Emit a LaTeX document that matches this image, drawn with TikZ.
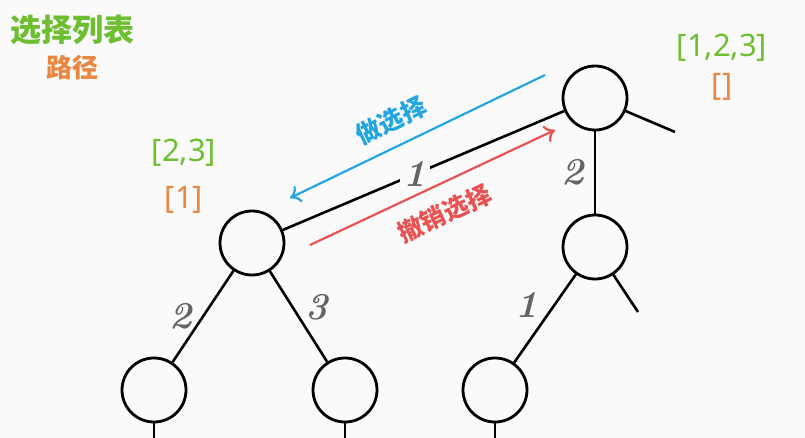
\documentclass[tikz,border=0pt]{standalone}
\usepackage{fontspec}
\newfontfamily\cjk{Noto Sans CJK SC}
\newfontfamily\lbl{Noto Sans}
\usetikzlibrary{arrows.meta}
\definecolor{bg}{RGB}{250,250,250}
\definecolor{listgreen}{RGB}{110,190,50}
\definecolor{pathorange}{RGB}{232,135,65}
\definecolor{doblue}{RGB}{35,165,225}
\definecolor{undored}{RGB}{232,82,82}
\definecolor{edgegray}{RGB}{100,100,100}
\tikzset{
  tnode/.style={circle,draw,line width=2.8pt,minimum size=64pt,inner sep=0pt},
  tedge/.style={line width=2.6pt},
  elabel/.style={text=edgegray,font=\fontsize{38}{38}\selectfont\bfseries\itshape},
  choice/.style={text=listgreen,font=\lbl\fontsize{31}{31}\selectfont},
  track/.style={text=pathorange,font=\lbl\fontsize{31}{31}\selectfont},
  move/.style={line width=2.2pt,-{To[length=10pt,width=18pt]}}
}
\begin{document}
\begin{tikzpicture}[x=1pt,y=-1pt]
    \fill[bg] (0,0) rectangle (805,438);
    \useasboundingbox (0,0) rectangle (805,438);
    % legend
    \node[text=listgreen,font=\cjk\bfseries\fontsize{31}{31}\selectfont] (legA) at (72,30) {选择列表};
    \node[text=pathorange,font=\cjk\bfseries\fontsize{26}{26}\selectfont] (legB) at (72,68) {路径};
    % tree
    \node[tnode] (root) at (595,98) {};
    \node[tnode] (left) at (252,243) {};
    \node[tnode] (mid) at (595,247) {};
    \node[tnode] (ll) at (154,390) {};
    \node[tnode] (lr) at (345,390) {};
    \node[tnode] (ml) at (495,390) {};
    \coordinate (rootR) at (675,132);
    \coordinate (midR) at (638,312);
    \coordinate (llB) at (154,440);
    \coordinate (lrB) at (345,440);
    \coordinate (mlB) at (495,440);
    \draw[tedge] (root) -- (left)
      node[pos=0.53,fill=bg,elabel,inner sep=4pt] {1};
    \draw[tedge] (root) -- (rootR);
    \draw[tedge] (root) -- (mid)
      node[midway,left=6pt,elabel] {2};
    \draw[tedge] (mid) -- (ml)
      node[pos=0.35,left=12pt,elabel] {1};
    \draw[tedge] (mid) -- (midR);
    \draw[tedge] (left) -- (ll)
      node[midway,left=6pt,elabel] {2};
    \draw[tedge] (left) -- (lr)
      node[pos=0.4,right=8pt,elabel] {3};
    \draw[tedge] (ll) -- (llB);
    \draw[tedge] (lr) -- (lrB);
    \draw[tedge] (ml) -- (mlB);
    % state labels
    \node[choice] (rootC) at (722,48) {[1,2,3]};
    \node[track] (rootT) at (722,87) {[]};
    \node[choice] (leftC) at (184,153) {[2,3]};
    \node[track] (leftT) at (184,200) {[1]};
    % choose / undo
    \coordinate (doS) at (545,75);
    \coordinate (doE) at (290,198);
    \coordinate (undoS) at (310,245);
    \coordinate (undoE) at (555,130);
    \draw[move,doblue] (doS) -- (doE)
      node[pos=0.56,sloped,above=9pt,text=doblue,font=\cjk\bfseries\fontsize{25}{25}\selectfont] {做选择};
    \draw[move,undored] (undoS) -- (undoE)
      node[pos=0.5,sloped,below=12pt,text=undored,font=\cjk\bfseries\fontsize{25}{25}\selectfont] {撤销选择};
\end{tikzpicture}
\end{document}
